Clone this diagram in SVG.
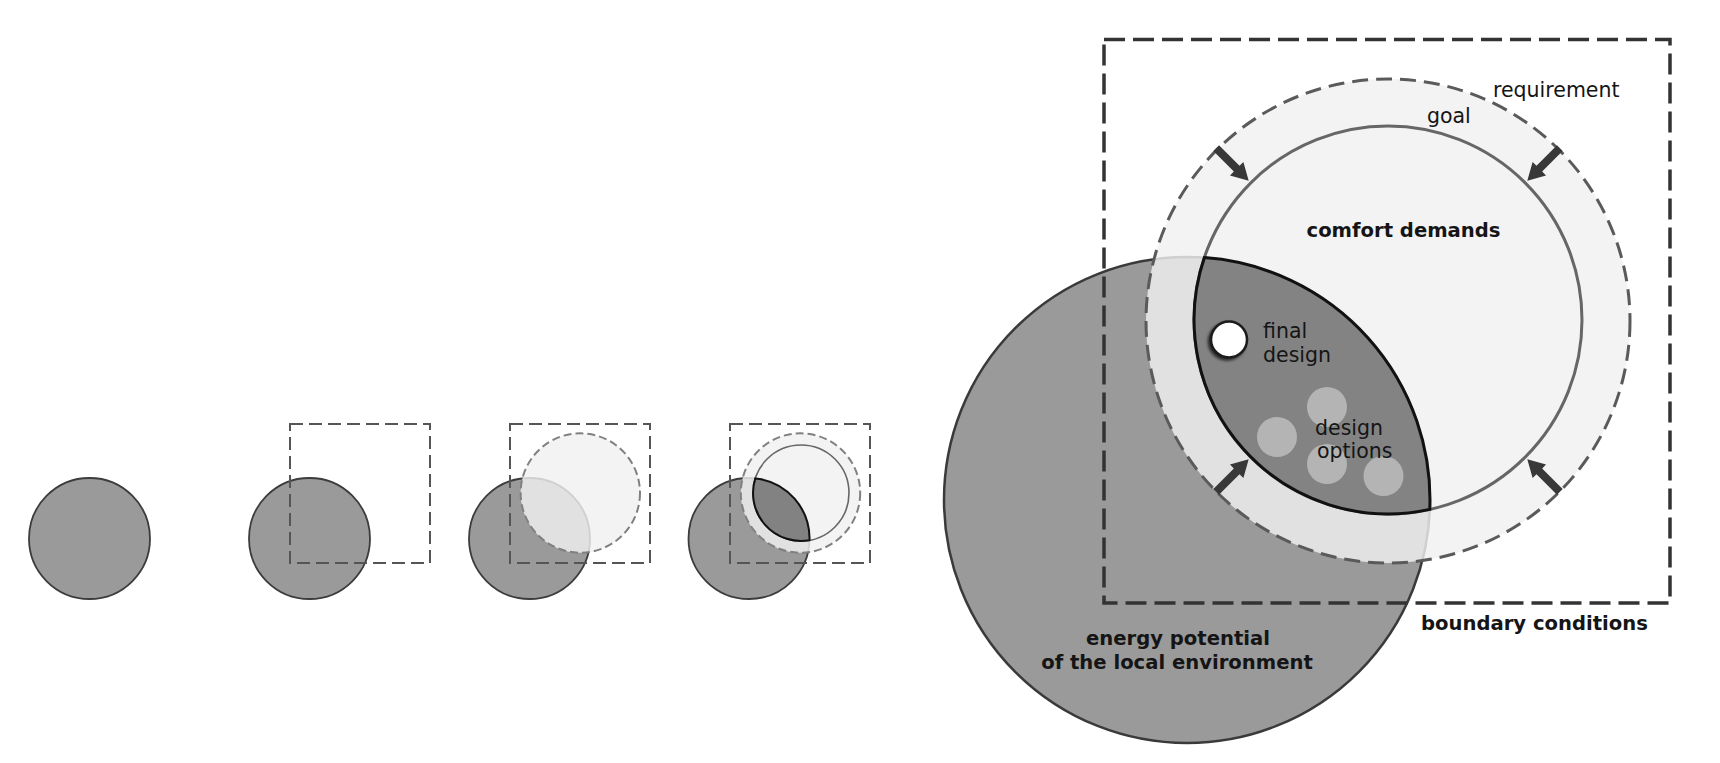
<svg xmlns="http://www.w3.org/2000/svg" width="1720" height="763" viewBox="0 0 1720 763">
<style>
.dark{fill:#9a9a9a;stroke:#3c3c3c;stroke-width:1.8}
.sbox{fill:none;stroke:#555;stroke-width:2;stroke-dasharray:13 6}
.sreq{fill:#f0f0f0;fill-opacity:0.82;stroke:#808080;stroke-width:2;stroke-dasharray:8 4}
.sgoal{fill:none;stroke:#666;stroke-width:1.6}
.slens{fill:#828282;stroke:#111;stroke-width:2}
.t{font-family:"DejaVu Sans",Verdana,sans-serif;font-size:20.5px;fill:#151515}
.tb{font-family:"DejaVu Sans",Verdana,sans-serif;font-size:19.6px;font-weight:bold;fill:#151515}
.arrow{fill:#383838}
.opt{fill:#bdbdbd;fill-opacity:0.85}
</style>
<defs>
<path id="arr" class="arrow" d="M243,-4 L214,-4 L214,-9.5 L197,0 L214,9.5 L214,4 L243,4 Z"/>
<filter id="sh" x="-50%" y="-50%" width="200%" height="200%">
<feDropShadow dx="-2" dy="2" stdDeviation="1.5" flood-color="#000" flood-opacity="0.7"/>
</filter>
</defs>

<g id="step1">
<circle class="dark" cx="89.5" cy="538.5" r="60.5"/>
</g>

<g id="step2">
<circle class="dark" cx="309.5" cy="538.5" r="60.5"/>
<rect class="sbox" x="290" y="424" width="140" height="139"/>
</g>

<g id="step3">
<circle class="dark" cx="529.5" cy="538.5" r="60.5"/>
<circle class="sreq" cx="580.3" cy="493" r="59.7"/>
<rect class="sbox" x="510" y="424" width="140" height="139"/>
</g>

<g id="step4">
<circle class="dark" cx="749" cy="538.5" r="60.5"/>
<circle class="sreq" cx="800.5" cy="493" r="59.7"/>
<circle class="sgoal" cx="801" cy="493" r="48"/>
<path class="slens" d="M755.3,478.4 A60.5,60.5 0 0 1 809.5,540.2 A48,48 0 0 1 755.3,478.4 Z"/>
<rect class="sbox" x="730" y="424" width="140" height="139"/>
</g>

<g id="energy-potential">
<circle cx="1187" cy="500" r="243" fill="#9a9a9a" stroke="#3a3a3a" stroke-width="2.5"/>
</g>

<g id="comfort-demands">
<circle cx="1388" cy="321" r="242" fill="#f0f0f0" fill-opacity="0.82" stroke="#5a5a5a" stroke-width="3" stroke-dasharray="16 8"/>
<circle cx="1388" cy="320" r="194" fill="none" stroke="#666" stroke-width="3"/>
</g>

<g id="solution-space">
<path d="M1204.4,257.6 A243,243 0 0 1 1429.8,509.4 A194,194 0 0 1 1204.4,257.6 Z" fill="#838383" stroke="#111" stroke-width="3"/>
</g>

<g id="design-options">
<circle class="opt" cx="1327" cy="407" r="20"/>
<circle class="opt" cx="1277" cy="437" r="20"/>
<circle class="opt" cx="1327" cy="464" r="20"/>
<circle class="opt" cx="1383.5" cy="476" r="20"/>
</g>

<g id="final-design">
<circle cx="1229" cy="339.5" r="18" fill="#fff" stroke="#1a1a1a" stroke-width="2.5" filter="url(#sh)"/>
</g>

<g id="connectors">
<use href="#arr" transform="translate(1388,320) rotate(-135)"/>
<use href="#arr" transform="translate(1388,320) rotate(-45)"/>
<use href="#arr" transform="translate(1388,320) rotate(135)"/>
<use href="#arr" transform="translate(1388,320) rotate(45)"/>
</g>

<g id="boundary-conditions">
<rect x="1104" y="39.5" width="566" height="563.5" fill="none" stroke="#333" stroke-width="3.5" stroke-dasharray="21 8"/>
</g>

<g id="labels">
<text class="t" x="1493" y="97">requirement</text>
<text class="t" x="1427" y="123">goal</text>
<text class="tb" x="1403.5" y="237" text-anchor="middle">comfort demands</text>
<text class="t" x="1263" y="338">final</text>
<text class="t" x="1263" y="362">design</text>
<text class="t" x="1315" y="435">design</text>
<text class="t" x="1317" y="458">options</text>
<text class="tb" x="1421" y="630">boundary conditions</text>
<text class="tb" x="1178" y="645" text-anchor="middle">energy potential</text>
<text class="tb" x="1177" y="669" text-anchor="middle">of the local environment</text>
</g>
</svg>
